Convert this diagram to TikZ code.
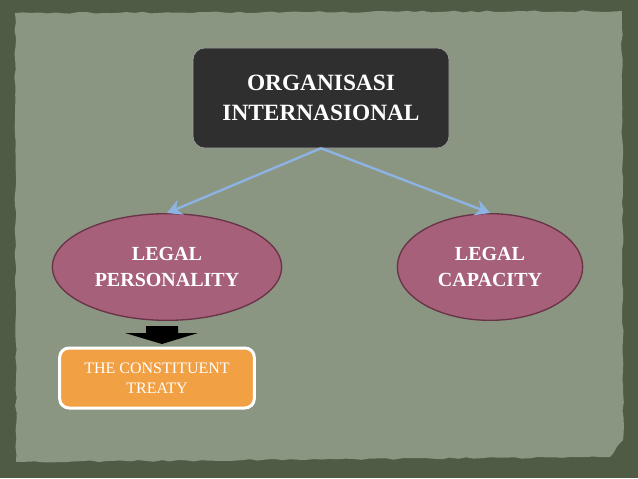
\documentclass[tikz,border=0pt]{standalone}
\usepackage{fontspec}
\setmainfont{Liberation Serif}
\usepackage{tikz}
\usetikzlibrary{arrows.meta,shapes.geometric,decorations.pathmorphing}
\usepackage{xcolor}
\definecolor{boardgreen}{HTML}{4F5B45}
\definecolor{panelgreen}{HTML}{8A9582}
\definecolor{boxdark}{HTML}{2F2F2F}
\definecolor{mauve}{HTML}{A6607A}
\definecolor{mauveedge}{HTML}{6A3447}
\definecolor{linkblue}{HTML}{8DB3E2}
\definecolor{treatyorange}{HTML}{F2A044}

\begin{document}
\begin{tikzpicture}[x=0.75pt,y=-0.75pt,>={Stealth[length=11pt,width=12pt]},thick]
      \tikzstyle{topbox}=[rectangle,rounded corners=9pt,draw=gray!70,thin,fill=boxdark,
        minimum width=192pt,minimum height=75pt,text=white,align=center,
        font=\fontsize{17.5}{22.5}\selectfont\bfseries]
      \tikzstyle{oval}=[ellipse,draw=mauveedge,line width=1pt,fill=mauve,inner sep=0pt,
        minimum height=80pt,text=white,align=center,
        font=\fontsize{15}{20}\selectfont\bfseries]
      \tikzstyle{treaty}=[rectangle,rounded corners=7pt,draw=white,line width=2.25pt,
        fill=treatyorange,minimum width=146pt,minimum height=45pt,text=white,align=center,
        font=\fontsize{12}{15}\selectfont]
      \tikzstyle{link}=[->,draw=linkblue,line width=1.8pt]
      % board and panel
      \fill[boardgreen] (0,0) rectangle (638,478);
      \fill[panelgreen,decorate,decoration={random steps,segment length=6pt,amplitude=0.7pt}]
        (15,13) -- (622,11) -- (623,440) -- (610,457) -- (16,462) -- cycle;
      \useasboundingbox (0,0) rectangle (638,478);
      % nodes
      \node[topbox](org) at (321,98){ORGANISASI\\INTERNASIONAL};
      \node[oval,minimum width=172pt](personality) at (167,267){LEGAL\\PERSONALITY};
      \node[oval,minimum width=139pt](capacity) at (490,267){LEGAL\\CAPACITY};
      \node[treaty](constituent) at (157,378){THE CONSTITUENT\\TREATY};
      % connectors
      \draw[link](org.south)--(personality.north);
      \draw[link](org.south)--(capacity.north);
      \fill[black](146,326)--(178,326)--(178,333)--(198,333)--(162,344)--(125,333)--(146,333)--cycle;
\end{tikzpicture}
\end{document}
